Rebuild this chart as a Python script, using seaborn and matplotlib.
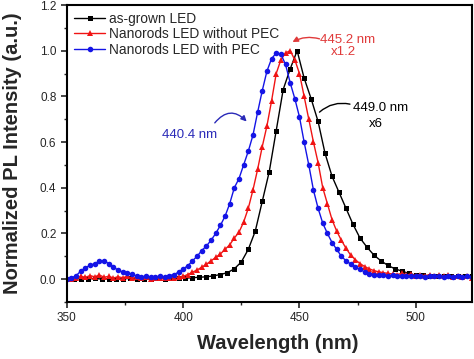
import numpy as np
import pandas as pd
import seaborn as sns
from matplotlib import pyplot as plt
from matplotlib.ticker import MultipleLocator

# Wavelength grids (nm)
wl_black = [350, 353, 356, 359, 362, 365, 368, 371, 374, 377, 380, 383, 386, 389,
            392, 395, 398, 401, 404, 407, 410, 413, 416, 419, 422, 425, 428, 431,
            434, 437, 440, 443, 446, 449, 452, 455, 458, 461, 464, 467, 470, 473,
            476, 479, 482, 485, 488, 491, 494, 497, 500, 503, 506, 509, 512, 515,
            518, 521, 524]
pl_black = [0.0, 0.0, 0.002, 0.0, 0.003, 0.0, 0.002, 0.0, 0.001, 0.003, 0.0, 0.002,
            0.0, 0.003, 0.002, 0.004, 0.003, 0.004, 0.006, 0.008, 0.01, 0.014, 0.02,
            0.028, 0.045, 0.075, 0.13, 0.21, 0.34, 0.47, 0.65, 0.83, 0.92, 1.0, 0.88,
            0.79, 0.69, 0.55, 0.45, 0.38, 0.31, 0.24, 0.18, 0.14, 0.105, 0.08, 0.06,
            0.045, 0.035, 0.025, 0.017, 0.016, 0.015, 0.014, 0.014, 0.013, 0.013,
            0.012, 0.012]

wl_red = [350, 352, 354, 356, 358, 360, 362, 364, 366, 368, 370, 372, 374, 376, 378,
          380, 382, 384, 386, 388, 390, 392, 394, 396, 398, 400, 402, 404, 406, 408,
          410, 412, 414, 416, 418, 420, 422, 424, 426, 428, 430, 432, 434, 436, 438,
          440, 442, 444, 446, 448, 450, 452, 454, 456, 458, 460, 462, 464, 466, 468,
          470, 472, 474, 476, 478, 480, 482, 484, 486, 488, 490, 492, 494, 496, 498,
          500, 502, 504, 506, 508, 510, 512, 514, 516, 518, 520, 522, 524]
pl_red = [0.0, 0.002, 0.006, 0.012, 0.008, 0.015, 0.01, 0.018, 0.008, 0.012, 0.005,
          0.01, 0.006, 0.012, 0.004, 0.008, 0.003, 0.007, 0.002, 0.005, 0.003, 0.004,
          0.006, 0.006, 0.008, 0.012, 0.02, 0.03, 0.04, 0.052, 0.065, 0.08, 0.095,
          0.11, 0.13, 0.15, 0.18, 0.205, 0.25, 0.31, 0.39, 0.48, 0.58, 0.67, 0.78,
          0.9, 0.96, 0.99, 1.0, 0.96, 0.9, 0.8, 0.7, 0.6, 0.51, 0.4, 0.33, 0.26, 0.21,
          0.17, 0.135, 0.105, 0.085, 0.068, 0.055, 0.045, 0.037, 0.032, 0.028, 0.025,
          0.022, 0.02, 0.025, 0.018, 0.022, 0.015, 0.02, 0.014, 0.02, 0.012, 0.018,
          0.012, 0.016, 0.01, 0.015, 0.008, 0.012, 0.006]

wl_blue = wl_red
pl_blue = [0.0, 0.005, 0.015, 0.035, 0.05, 0.06, 0.068, 0.078, 0.08, 0.068, 0.052,
           0.04, 0.03, 0.025, 0.022, 0.012, 0.01, 0.012, 0.008, 0.01, 0.012, 0.01,
           0.015, 0.02, 0.03, 0.045, 0.058, 0.08, 0.1, 0.125, 0.145, 0.17, 0.2, 0.235,
           0.275, 0.33, 0.4, 0.44, 0.5, 0.56, 0.63, 0.73, 0.825, 0.91, 0.965, 0.99,
           0.985, 0.94, 0.86, 0.79, 0.71, 0.6, 0.5, 0.39, 0.31, 0.245, 0.2, 0.16,
           0.13, 0.1, 0.08, 0.066, 0.053, 0.042, 0.032, 0.024, 0.02, 0.018, 0.016,
           0.015, 0.016, 0.013, 0.015, 0.012, 0.014, 0.012, 0.015, 0.01, 0.014, 0.012,
           0.015, 0.01, 0.013, 0.011, 0.013, 0.01, 0.012, 0.01]

labels = ["as-grown LED", "Nanorods LED without PEC", "Nanorods LED with PEC"]

sns.set_style("ticks")
plt.rcParams["font.family"] = ["Liberation Sans", "DejaVu Sans"]

fig = plt.figure(figsize=(4.74, 3.59), dpi=100)
ax = fig.add_axes([0.141, 0.159, 0.854, 0.827])

sns.lineplot(x=wl_black, y=pl_black, ax=ax, color="black", marker="s",
             markersize=3.6, markeredgewidth=0, linewidth=1.0, label=labels[0])
sns.lineplot(x=wl_red, y=pl_red, ax=ax, color="#f01414", marker="^",
             markersize=5.0, markeredgewidth=0, linewidth=1.0, label=labels[1])
sns.lineplot(x=wl_blue, y=pl_blue, ax=ax, color="#1414e6", marker="o",
             markersize=4.0, markeredgewidth=0, linewidth=1.0, label=labels[2])

ax.set_xlim(350, 524)
ax.set_ylim(-0.1, 1.2)
ax.set_xticks([350, 400, 450, 500])
ax.xaxis.set_minor_locator(MultipleLocator(25))
ax.yaxis.set_minor_locator(MultipleLocator(0.1))
ax.set_yticks([0.0, 0.2, 0.4, 0.6, 0.8, 1.0, 1.2])
ax.set_yticklabels(["0.0", "0.2", "0.4", "0.6", "0.8", "1.0", "1.2"])
ax.tick_params(which="major", direction="out", length=4, width=1.2, labelsize=8.5)
ax.tick_params(which="minor", direction="out", length=2.5, width=1.0)
for s in ax.spines.values():
    s.set_linewidth(1.5)
    s.set_color("black")

ax.set_xlabel("Wavelength (nm)", fontsize=14.5, fontweight="bold")
ax.set_ylabel("Normalized PL Intensity (a.u.)", fontsize=14.5, fontweight="bold")
ax.xaxis.set_label_coords(0.521, -0.108)
ax.yaxis.set_label_coords(-0.11, 0.5)

ax.legend(loc="upper left", frameon=False, fontsize=9.9, handlelength=2.3,
          handletextpad=0.3, labelspacing=0.1, borderaxespad=0.1,
          bbox_to_anchor=(0.0, 1.0))

# annotations
blue_txt = "#2a2ab8"
red_txt = "#e03a3a"
ax.text(402.9, 0.63, "440.4 nm", color=blue_txt, fontsize=9.5, ha="center",
        va="center")
ax.annotate("", xy=(427.3, 0.69), xytext=(413.6, 0.684),
            arrowprops=dict(arrowstyle="-|>", color=blue_txt, lw=1.0,
                            shrinkA=0, shrinkB=0, mutation_scale=8,
                            connectionstyle="arc3,rad=-0.55"))

ax.text(458.9, 1.048, "445.2 nm", color=red_txt, fontsize=9.5, ha="left",
        va="center")
ax.text(468.9, 0.993, "x1.2", color=red_txt, fontsize=9.5, ha="center",
        va="center")
ax.annotate("", xy=(447.0, 1.038), xytext=(458.6, 1.052),
            arrowprops=dict(arrowstyle="-|>", color=red_txt, lw=1.0,
                            shrinkA=0, shrinkB=0, mutation_scale=8,
                            connectionstyle="arc3,rad=0.2"))

ax.text(473.0, 0.75, "449.0 nm", color="black", fontsize=9.5, ha="left",
        va="center")
ax.text(482.8, 0.68, "x6", color="black", fontsize=9.5, ha="center", va="center")
ax.annotate("", xy=(458.6, 0.731), xytext=(471.7, 0.766),
            arrowprops=dict(arrowstyle="-", color="black", lw=1.0,
                            shrinkA=0, shrinkB=0,
                            connectionstyle="arc3,rad=0.25"))

fig.savefig("out.png", dpi=100)
